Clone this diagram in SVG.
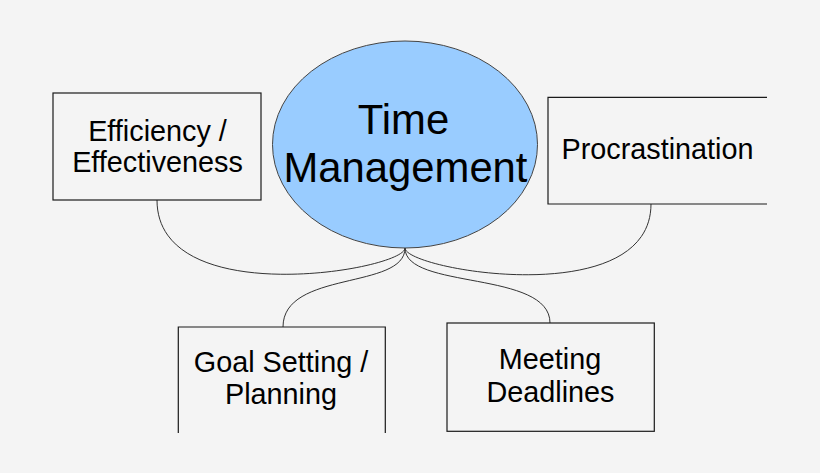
<svg xmlns="http://www.w3.org/2000/svg" width="820" height="473" viewBox="0 0 820 473">
<style>
.box{fill:none;stroke:#1a1a1a;stroke-width:1.2}
.lbl{font-family:"Liberation Sans",Arial,sans-serif;font-size:28.8px;fill:#000;text-anchor:middle}
.big{font-family:"Liberation Sans",Arial,sans-serif;font-size:41.8px;fill:#000;text-anchor:middle}
.conn{fill:none;stroke:#333;stroke-width:1}
</style>
<rect x="0" y="0" width="820" height="473" fill="#f4f4f4"/>
<g id="connectors">
<path class="conn" d="M157,200 C157,312 405,270 405,248"/>
<path class="conn" d="M651,204 C651,312 405,270 405,248"/>
<path class="conn" d="M283,327 C283,270 405,290 405,248"/>
<path class="conn" d="M550,323 C550,270 405,290 405,248"/>
</g>
<g id="time-management">
<ellipse cx="405" cy="144.5" rx="132.5" ry="103.5" fill="#99ccff" stroke="#444" stroke-width="1"/>
<text class="big" x="403.5" y="134">Time</text>
<text class="big" x="405.5" y="182">Management</text>
</g>
<g id="efficiency">
<rect class="box" x="53" y="93" width="208" height="107"/>
<text class="lbl" x="157.5" y="141">Efficiency /</text>
<text class="lbl" x="157.5" y="172">Effectiveness</text>
</g>
<g id="procrastination">
<path class="box" d="M767,97.3 H548 V204 H767"/>
<text class="lbl" x="657.5" y="159.3">Procrastination</text>
</g>
<g id="goal-setting">
<path class="box" d="M178.3,433 V327 H385.3 V433"/>
<text class="lbl" x="281" y="371.7">Goal Setting /</text>
<text class="lbl" x="281" y="404.3">Planning</text>
</g>
<g id="meeting-deadlines">
<rect class="box" x="447" y="323" width="207.3" height="108.3"/>
<text class="lbl" x="550" y="369.3">Meeting</text>
<text class="lbl" x="550.5" y="402.3">Deadlines</text>
</g>
</svg>
